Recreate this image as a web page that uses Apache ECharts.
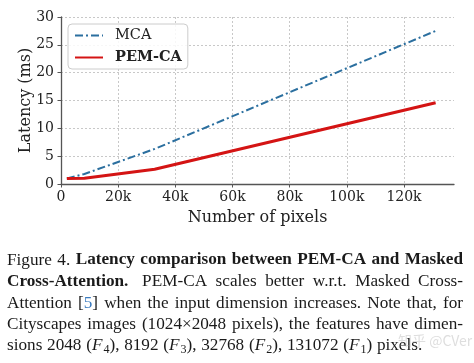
<!DOCTYPE html>
<html><head><meta charset="utf-8">
<script src="https://cdn.jsdelivr.net/npm/echarts@6/dist/echarts.min.js"></script>
<style>html,body{margin:0;padding:0;background:#fff}#c{width:474px;height:363px}</style>
</head><body><div id="c"></div>
<script>
const xPixels = [2048, 8192, 32768, 131072];
const mcaLatency = [1.0, 1.8, 6.3, 27.5];
const pemLatency = [1.0, 1.05, 2.65, 14.6];
const seriesNames = ['MCA', 'PEM-CA'];
const xAxisTitle = 'Number of pixels';
const yAxisTitle = 'Latency (ms)';
const captionLines = [
  "Figure 4. *Latency comparison between PEM-CA and Masked*",
  "*Cross-Attention.*  PEM-CA scales better w.r.t. Masked Cross-",
  "Attention [^5^] when the input dimension increases. Note that, for",
  "Cityscapes images (1024×2048 pixels), the features have dimen-",
  "sions 2048 (_F_~4~), 8192 (_F_~3~), 32768 (_F_~2~), 131072 (_F_~1~) pixels."
];
const watermark = '知乎 @CVer';

const SERIF = '"DejaVu Serif", serif';
const CAP = '"Liberation Serif", "Times New Roman", serif';
const capSize = 17.2;

const chart = echarts.init(document.getElementById('c'), null, {renderer: 'canvas'});

// ---- caption layout (text only) ----
const mctx = document.createElement('canvas').getContext('2d');
function fontStr(st, size){ return (st.i?'italic ':'') + (st.b?'bold ':'') + size + 'px ' + CAP; }
function measure(t, st, size){ mctx.font = fontStr(st, size); return mctx.measureText(t).width; }
const capElems = [];
const lineYs = [260, 281.5, 303, 324.3, 345.5];
const X0 = 7, X1 = 463;
(function(){
  const st = {b:false, i:false, sub:false, blue:false};
  captionLines.forEach((line, li) => {
    const parts = line.split(/( +)/);
    const words = []; const gaps = [];
    parts.forEach(p => {
      if (/^ +$/.test(p)) { gaps.push(p.length); return; }
      if (!p) return;
      const segs = []; let buf = '';
      const flush = () => { if (buf) { segs.push({t: buf, st: Object.assign({}, st)}); buf=''; } };
      for (const ch of p) {
        if (ch === '*') { flush(); st.b = !st.b; }
        else if (ch === '_') { flush(); st.i = !st.i; }
        else if (ch === '~') { flush(); st.sub = !st.sub; }
        else if (ch === '^') { flush(); st.blue = !st.blue; }
        else buf += ch;
      }
      flush();
      segs.forEach(s => { s.size = s.st.sub ? capSize*0.7 : capSize; s.w = measure(s.t, s.st, s.size) + (s.st.i ? 1 : 0); });
      words.push({segs, w: segs.reduce((a,s)=>a+s.w,0)});
    });
    const spaceW = measure(' ', {b:false,i:false}, capSize);
    const wordsW = words.reduce((a,w)=>a+w.w,0);
    const justify = li < captionLines.length - 1;
    let gapW;
    const extra = gaps.reduce((a,g)=>a+(g>1?0.6:0),0);
    if (justify) gapW = (X1 - X0 - wordsW) / (gaps.length + extra);
    else gapW = spaceW * 1.1;
    let x = X0;
    words.forEach((w, wi) => {
      w.segs.forEach(s => {
        capElems.push({type:'text', x: x, y: lineYs[li] + (s.st.sub ? 4 : 0), silent:true,
          style:{text: s.t, fontSize: s.size, fontFamily: CAP, fontWeight: s.st.b?'bold':'normal',
            fontStyle: s.st.i?'italic':'normal', fill: s.st.blue ? '#3b7bbf' : '#1a1a1a', verticalAlign:'middle', align:'left'}});
        x += s.w;
      });
      if (wi < gaps.length) x += gapW * (gaps[wi] > 1 ? 1.6 : 1);
    });
  });
  capElems.push({type:'text', x: 398, y: 341, silent:true, z: 10,
    style:{text: watermark, fontSize: 14, fontFamily: '"Noto Sans CJK SC", sans-serif', fill:'rgba(160,160,160,0.35)', verticalAlign:'middle'}});
})();

const option = {
  animation: false,
  backgroundColor: '#fff',
  grid: {left: 61, right: 20, top: 17, bottom: 179, containLabel: false, outerBoundsMode: 'none'},
  legend: {
    left: 68, top: 24, orient: 'vertical',
    padding: [4, 6, 4, 6], itemGap: 7, itemWidth: 28, itemHeight: 14,
    borderColor: '#cccccc', borderWidth: 1, borderRadius: 4, backgroundColor: 'rgba(255,255,255,0.85)',
    itemStyle: {color: 'rgba(0,0,0,0)', borderWidth: 0, borderColor: 'rgba(0,0,0,0)'},
    data: seriesNames,
    formatter: n => n === 'PEM-CA' ? '{b|' + n + '}' : '{n|' + n + '}',
    textStyle: {fontFamily: SERIF, fontSize: 14.5, color: '#222',
      rich: {n: {fontFamily: SERIF, fontSize: 14.5, padding: [0,0,0,7], color:'#222'},
             b: {fontFamily: SERIF, fontSize: 14.5, fontWeight: 'bold', padding: [0,0,0,7], color:'#222'}}}
  },
  xAxis: {
    type: 'value', min: 0, max: 137500, interval: 20000,
    name: xAxisTitle, nameLocation: 'middle', nameGap: 26, nameMoveOverlap: false,
    nameTextStyle: {fontFamily: SERIF, fontSize: 16, color: '#222'},
    axisLine: {show: true, lineStyle: {color: '#555', width: 1.3}},
    axisTick: {show: true, length: 3.5, lineStyle: {color: '#555'}},
    axisLabel: {fontFamily: SERIF, fontSize: 14, color: '#222', margin: 6, showMaxLabel: false,
      formatter: v => v === 0 ? '0' : (v/1000) + 'k'},
    splitLine: {show: true, showMaxLine: false, lineStyle: {color: '#c8c8c8', width: 1, type: [2, 2]}}
  },
  yAxis: {
    type: 'value', min: 0, max: 30, interval: 5,
    name: yAxisTitle, nameLocation: 'middle', nameGap: 27, nameMoveOverlap: false,
    nameTextStyle: {fontFamily: SERIF, fontSize: 16, color: '#222'},
    axisLine: {show: true, lineStyle: {color: '#555', width: 1.3}},
    axisTick: {show: true, length: 3.5, lineStyle: {color: '#555'}},
    axisLabel: {fontFamily: SERIF, fontSize: 14, color: '#222', margin: 7},
    splitLine: {show: true, lineStyle: {color: '#c8c8c8', width: 1, type: [2, 2]}}
  },
  series: [
    {name: seriesNames[0], type: 'line', symbol: 'none', z: 3,
     data: xPixels.map((x,i)=>[x, mcaLatency[i]]),
     lineStyle: {color: '#2b6f9f', width: 2, type: [8, 3, 2, 3]}, itemStyle: {color: '#2b6f9f'}},
    {name: seriesNames[1], type: 'line', symbol: 'none', z: 4,
     data: xPixels.map((x,i)=>[x, pemLatency[i]]),
     lineStyle: {color: '#d41414', width: 3}, itemStyle: {color: '#d41414'}}
  ],
  graphic: capElems
};
chart.setOption(option);
</script>
</body></html>
